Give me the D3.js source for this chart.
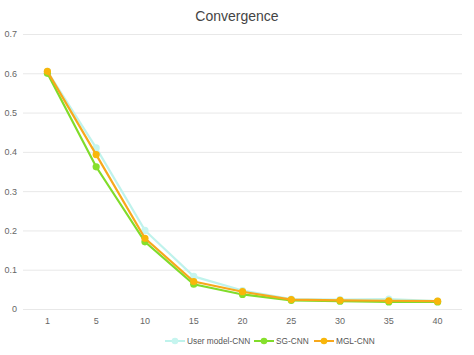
<!DOCTYPE html>
<html><head><meta charset="utf-8">
<script src="https://cdn.jsdelivr.net/npm/d3@7"></script>
<style>body{margin:0;background:#fff}svg{display:block}</style>
</head><body>
<script>
const categories = ["1","5","10","15","20","25","30","35","40"];
const userModel = [0.605,0.41,0.20,0.083,0.047,0.025,0.024,0.025,0.020];
const sgCnn     = [0.600,0.362,0.171,0.063,0.037,0.022,0.020,0.018,0.018];
const mglCnn    = [0.605,0.393,0.180,0.070,0.044,0.024,0.022,0.021,0.020];
const yTicks = [0,0.1,0.2,0.3,0.4,0.5,0.6,0.7];
const seriesNames = ["User model-CNN","SG-CNN","MGL-CNN"];

const series = [
  {name:seriesNames[0], values:userModel, line:"#bff3ec", dot:"#c6f5ef"},
  {name:seriesNames[1], values:sgCnn, line:"#80dc2a", dot:"#86e02c"},
  {name:seriesNames[2], values:mglCnn, line:"#f7a81c", dot:"#f8b60a"}
];

const W=474,H=355;
const svg=d3.select("body").append("svg").attr("width",W).attr("height",H);
const x=d3.scaleBand().domain(categories).range([23,462]).padding(0);
const y=d3.scaleLinear().domain([0,0.7]).range([309,34]);
const cx=d=>x(d)+x.bandwidth()/2;

svg.append("text").attr("x",237).attr("y",21).attr("text-anchor","middle")
  .attr("font-family","Liberation Sans, Arial, sans-serif").attr("font-size",14).attr("fill","#444").text("Convergence");

const gy=svg.append("g").attr("transform","translate(23,0)")
  .call(d3.axisLeft(y).tickValues(yTicks).tickSize(-439).tickFormat(d=>d===0?"0":d3.format(".1f")(d)));
gy.select(".domain").remove();
gy.selectAll(".tick line").attr("stroke","#e8e8e8").attr("stroke-width",1);
gy.selectAll(".tick text").attr("x",-6).attr("fill","#666").attr("font-size",9)
  .attr("font-family","Liberation Sans, Arial, sans-serif");

const gx=svg.append("g").attr("transform","translate(0,309)")
  .call(d3.axisBottom(x).tickSize(0).tickPadding(9));
gx.select(".domain").remove();
gx.selectAll(".tick text").attr("fill","#666").attr("font-size",9)
  .attr("font-family","Liberation Sans, Arial, sans-serif");

const line=d3.line().x((d,i)=>cx(categories[i])).y(d=>y(d));
series.forEach(s=>{
  svg.append("path").datum(s.values).attr("d",line).attr("fill","none")
    .attr("stroke",s.line).attr("stroke-width",2.2);
  svg.selectAll(null).data(s.values).enter().append("circle")
    .attr("cx",(d,i)=>cx(categories[i])).attr("cy",d=>y(d)).attr("r",3.6).attr("fill",s.dot);
});

const legX=[165,254,314];
const leg=svg.append("g");
series.forEach((s,i)=>{
  const g=leg.append("g").attr("transform",`translate(${legX[i]},341)`);
  g.append("line").attr("x1",0).attr("x2",20).attr("stroke",s.line).attr("stroke-width",2);
  g.append("circle").attr("cx",10).attr("r",3.3).attr("fill",s.dot);
  g.append("text").attr("x",22).attr("y",3.2).attr("font-size",8.3).attr("fill","#555")
    .attr("font-family","Liberation Sans, Arial, sans-serif").text(s.name);
});
</script>
</body></html>
